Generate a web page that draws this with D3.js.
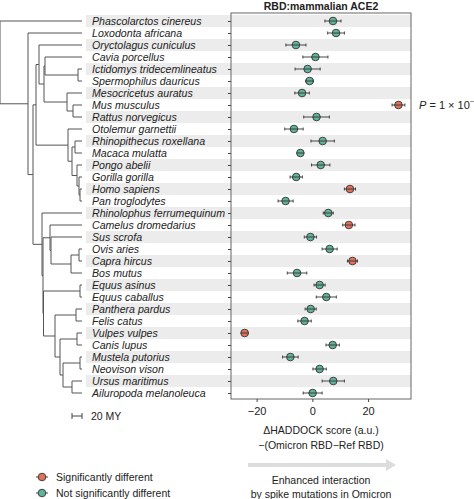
<!DOCTYPE html>
<html><head><meta charset="utf-8">
<script src="https://cdn.jsdelivr.net/npm/d3@7"></script>
<style>body{margin:0;background:#fff}svg{font-family:"Liberation Sans",Arial,sans-serif}</style>
</head><body><div id="chart"></div>
<script>
// species in display order
const species = ['Phascolarctos cinereus','Loxodonta africana','Oryctolagus cuniculus','Cavia porcellus',
  'Ictidomys tridecemlineatus','Spermophilus dauricus','Mesocricetus auratus','Mus musculus','Rattus norvegicus',
  'Otolemur garnettii','Rhinopithecus roxellana','Macaca mulatta','Pongo abelii','Gorilla gorilla','Homo sapiens',
  'Pan troglodytes','Rhinolophus ferrumequinum','Camelus dromedarius','Sus scrofa','Ovis aries','Capra hircus',
  'Bos mutus','Equus asinus','Equus caballus','Panthera pardus','Felis catus','Vulpes vulpes','Canis lupus',
  'Mustela putorius','Neovison vison','Ursus maritimus','Ailuropoda melanoleuca'];
const scores = [7.4,8.5,-5.9,1.1,-1.7,-1.0,-3.7,30.9,1.5,-6.6,3.7,-4.3,3.0,-5.8,13.5,-9.6,5.7,13.1,-0.7,6.2,14.4,-5.5,2.6,5.0,-0.6,-2.8,-24.3,7.3,-7.9,2.6,7.5,0.1];
const errors = [2.9,3.0,3.6,4.5,4.5,1.4,2.6,2.3,4.6,3.3,4.2,0.6,3.3,2.2,2.0,2.7,1.8,2.2,2.2,2.7,1.8,3.5,2.0,3.6,2.0,2.4,1.2,2.4,2.8,2.4,4.0,3.4];
const significant = species.map(s => ['Mus musculus','Homo sapiens','Camelus dromedarius','Capra hircus','Vulpes vulpes'].includes(s));
const xTicks = [-20, 0, 20];

// tree: [age in MY, children] ; tips are species names
const tree = [164, ['Phascolarctos cinereus',
  [108, ['Loxodonta africana',
    [98, [
      [92, [
        [86, ['Oryctolagus cuniculus',
          [76, [[74, ['Cavia porcellus', [8, ['Ictidomys tridecemlineatus','Spermophilus dauricus']]]],
                [30, ['Mesocricetus auratus', [18, ['Mus musculus','Rattus norvegicus']]]]]]]],
        [28, ['Otolemur garnettii',
          [20, [[14, ['Rhinopithecus roxellana','Macaca mulatta']],
                [10, ['Pongo abelii', [6, ['Gorilla gorilla', [4, ['Homo sapiens','Pan troglodytes']]]]]]]]]]]],
      [80, ['Rhinolophus ferrumequinum',
        [78, [
          [64, ['Camelus dromedarius', [62, ['Sus scrofa', [22, [[6, ['Ovis aries','Capra hircus']], 'Bos mutus']]]]]],
          [77, [[4, ['Equus asinus','Equus caballus']],
            [54, [[12, ['Panthera pardus','Felis catus']],
              [44, [[10, ['Vulpes vulpes','Canis lupus']],
                [38, [[4, ['Mustela putorius','Neovison vison']], [20, ['Ursus maritimus','Ailuropoda melanoleuca']]]]]]]]]]]]]]]]]]]];

const W = 474, H = 499;
const svg = d3.select('#chart').append('svg').attr('width', W).attr('height', H);

const y = d3.scalePoint().domain(species).range([21, 393]);
const x = d3.scaleLinear().domain([-29.2, 35.4]).range([231, 411]);
const ageX = d3.scaleLinear().domain([164, 0]).range([0, 82]);
const panelTop = 13, panelBot = 399;

// stripes
species.forEach((s, i) => {
  if (i % 2 === 0) svg.append('rect').attr('x', 86).attr('y', y(s) - 6).attr('width', 411 - 86).attr('height', 12).attr('fill', '#ececec');
});
// cover stripe gap between labels and panel
svg.append('rect').attr('x', 231).attr('y', panelTop).attr('width', 180).attr('height', panelBot - panelTop)
  .attr('fill', 'none').attr('stroke', '#666').attr('stroke-width', 1);

// tree
const tg = svg.append('g').attr('stroke', '#555').attr('fill', 'none').attr('stroke-width', 1);
function draw(node) {
  if (typeof node === 'string') return { y: y(node), x: ageX(0) };
  const [age, kids] = node;
  const nx = ageX(age);
  const ch = kids.map(draw);
  ch.forEach(c => tg.append('line').attr('x1', nx).attr('x2', c.x).attr('y1', c.y).attr('y2', c.y));
  const y0 = ch[0].y, y1 = ch[ch.length - 1].y;
  tg.append('line').attr('x1', nx).attr('x2', nx).attr('y1', y0).attr('y2', y1);
  return { x: nx, y: (y0 + y1) / 2 };
}
const root = draw(tree);

// labels
svg.append('g').selectAll('text').data(species).join('text')
  .attr('x', 92).attr('y', d => y(d) + 4).attr('font-size', 10.6).attr('font-style', 'italic').attr('fill', '#222').text(d => d);

// y ticks
svg.append('g').attr('transform', 'translate(231,0)')
  .call(d3.axisLeft(y).tickSize(3).tickFormat(''))
  .call(g => { g.select('.domain').remove(); g.selectAll('line').attr('stroke', '#444'); });

// x axis
svg.append('g').attr('transform', `translate(0,${panelBot})`)
  .call(d3.axisBottom(x).tickValues(xTicks).tickSize(3).tickFormat(d => d < 0 ? '\u2212' + Math.abs(d) : d))
  .call(g => { g.select('.domain').remove(); g.selectAll('line').attr('stroke', '#444');
    g.selectAll('text').attr('font-size', 11).attr('fill', '#222').attr('dy', '0.9em'); });

// error bars & points
const pts = svg.append('g');
species.forEach((s, i) => {
  const cy = y(s), lo = x(scores[i] - errors[i]), hi = x(scores[i] + errors[i]);
  pts.append('line').attr('x1', lo).attr('x2', hi).attr('y1', cy).attr('y2', cy).attr('stroke', '#333').attr('stroke-width', 0.9);
  [lo, hi].forEach(v => pts.append('line').attr('x1', v).attr('x2', v).attr('y1', cy - 1.5).attr('y2', cy + 1.5).attr('stroke', '#333').attr('stroke-width', 0.9));
  pts.append('circle').attr('cx', x(scores[i])).attr('cy', cy).attr('r', 3.8)
    .attr('fill', significant[i] ? '#e0735a' : '#62b39b').attr('stroke', '#333').attr('stroke-width', 0.9);
  pts.append('line').attr('x1', x(scores[i]) - 3.8).attr('x2', x(scores[i]) + 3.8).attr('y1', cy).attr('y2', cy).attr('stroke', '#333').attr('stroke-width', 0.9);
});

// title and annotations
svg.append('text').attr('x', 321).attr('y', 10).attr('text-anchor', 'middle').attr('font-size', 10.5).attr('font-weight', 'bold').attr('fill', '#222').text('RBD:mammalian ACE2');
const p = svg.append('text').attr('x', 419).attr('y', y('Mus musculus') + 4).attr('font-size', 11).attr('fill', '#222');
p.append('tspan').attr('font-style', 'italic').text('P');
p.append('tspan').text(' = 1 \u00d7 10');
p.append('tspan').attr('font-size', 7).attr('dy', -5).text('\u22126');

svg.append('text').attr('x', 321).attr('y', 434).attr('text-anchor', 'middle').attr('font-size', 10.5).attr('fill', '#222').text('\u0394HADDOCK score (a.u.)');
svg.append('text').attr('x', 321).attr('y', 449).attr('text-anchor', 'middle').attr('font-size', 10.5).attr('fill', '#222').text('\u2212(Omicron RBD\u2212Ref RBD)');

svg.append('line').attr('x1', 248).attr('x2', 388).attr('y1', 465).attr('y2', 465).attr('stroke', '#ddd').attr('stroke-width', 4);
svg.append('path').attr('d', 'M386,459 L396,465 L386,471 Z').attr('fill', '#ddd');
svg.append('text').attr('x', 321).attr('y', 484).attr('text-anchor', 'middle').attr('font-size', 10.5).attr('fill', '#222').text('Enhanced interaction');
svg.append('text').attr('x', 321).attr('y', 498).attr('text-anchor', 'middle').attr('font-size', 10.5).attr('fill', '#222').text('by spike mutations in Omicron');

// scale bar
const sb = svg.append('g').attr('stroke', '#444');
sb.append('line').attr('x1', ageX(20)).attr('x2', ageX(0)).attr('y1', 416).attr('y2', 416);
[ageX(20), ageX(0)].forEach(v => sb.append('line').attr('x1', v).attr('x2', v).attr('y1', 413).attr('y2', 419));
svg.append('text').attr('x', 91).attr('y', 420).attr('font-size', 10.5).attr('fill', '#222').text('20 MY');

// legend
[['Significantly different', '#e0735a', 477], ['Not significantly different', '#62b39b', 493]].forEach(([t, c, ly]) => {
  svg.append('line').attr('x1', 36).attr('x2', 48).attr('y1', ly).attr('y2', ly).attr('stroke', '#333').attr('stroke-width', 0.9);
  svg.append('circle').attr('cx', 42).attr('cy', ly).attr('r', 3.8).attr('fill', c).attr('stroke', '#333').attr('stroke-width', 0.9);
  svg.append('text').attr('x', 56).attr('y', ly + 4).attr('font-size', 10.5).attr('fill', '#222').text(t);
});
</script></body></html>
